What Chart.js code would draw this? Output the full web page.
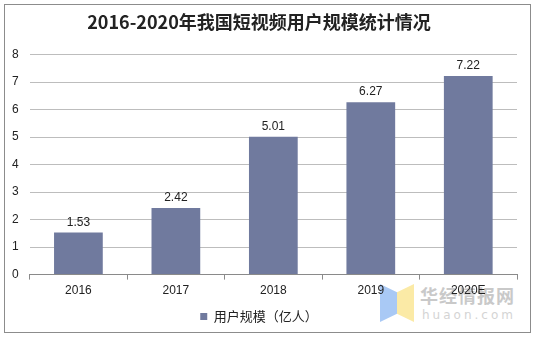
<!DOCTYPE html>
<html>
<head>
<meta charset="utf-8">
<script src="https://cdn.jsdelivr.net/npm/chart.js@4"></script>
<style>
  html, body { margin: 0; padding: 0; background: #fff; }
  #wrap { position: relative; width: 535px; height: 340px; overflow: hidden; }
  #frame { position: absolute; left: 4px; top: 4px; width: 525px; height: 327px; border: 1px solid #8c8c8c; }
  #mark { position: absolute; left: 380px; top: 282px; width: 150px; height: 42px; white-space: nowrap; }
  #mark .blue { position: absolute; left: 0; top: 2px; width: 17px; height: 38px; background: #a9c9f5;
    clip-path: polygon(0 0, 100% 22%, 100% 78%, 0 100%); }
  #mark .yellow { position: absolute; left: 17px; top: 2px; width: 17px; height: 38px; background: #fbeaa6;
    clip-path: polygon(0 22%, 100% 0, 100% 100%, 0 78%); }
  #mark .cn { position: absolute; left: 40px; top: 0; font: bold 18px "Noto Sans CJK SC", sans-serif; color: #c9c9c9; letter-spacing: 1px; }
  #mark .en { position: absolute; left: 42px; top: 26px; font: 12px "DejaVu Sans", sans-serif; color: #d4d4d4; letter-spacing: 3px; }
  canvas { position: absolute; left: 0; top: 0; }
</style>
</head>
<body>
<div id="wrap">
  <div id="mark"><div class="blue"></div><div class="yellow"></div><div class="cn">华经情报网</div><div class="en">huaon.com</div></div>
  <div id="frame"></div>
  <canvas id="chart" width="535" height="340"></canvas>
</div>
<script>
const years = ['2016', '2017', '2018', '2019', '2020E'];
const users = [1.53, 2.42, 5.01, 6.27, 7.22];
const seriesName = '用户规模（亿人）';
const chartTitle = '2016-2020年我国短视频用户规模统计情况';

const barLabels = {
    id: 'barLabels',
    afterDatasetsDraw(chart) {
        const ctx = chart.ctx;
        ctx.save();
        ctx.font = '12px "Liberation Sans", Arial, sans-serif';
        ctx.fillStyle = '#222';
        ctx.textAlign = 'center';
        ctx.textBaseline = 'bottom';
        chart.getDatasetMeta(0).data.forEach(function(bar, i) {
            ctx.fillText(users[i].toFixed(2), bar.x, bar.y - 4);
        });
        ctx.restore();
    }
};

new Chart(document.getElementById('chart').getContext('2d'), {
    type: 'bar',
    data: {
        labels: years,
        datasets: [{
            label: seriesName,
            data: users,
            backgroundColor: '#707a9e',
            barPercentage: 0.5,
            categoryPercentage: 1.0
        }]
    },
    options: {
        responsive: false,
        animation: false,
        layout: { padding: { left: 1, right: 18, top: 0, bottom: 7 } },
        plugins: {
            title: {
                display: true,
                text: chartTitle,
                color: '#222',
                font: { family: '"Noto Sans CJK SC", serif', size: 18, weight: 'bold' },
                padding: { top: 11, bottom: 22 }
            },
            legend: {
                position: 'bottom',
                labels: {
                    boxWidth: 7,
                    boxHeight: 7,
                    padding: 8,
                    color: '#222',
                    font: { family: '"Noto Sans CJK SC", sans-serif', size: 13 }
                }
            },
            tooltip: { enabled: false }
        },
        scales: {
            x: {
                grid: { display: true, drawOnChartArea: false, offset: true, tickLength: 5, color: '#8a8a8a' },
                border: { color: '#8a8a8a' },
                ticks: { color: '#222', padding: 4, font: { family: '"Liberation Sans", Arial, sans-serif', size: 12 } }
            },
            y: {
                min: 0,
                max: 8,
                grid: { color: '#bdbdbd', drawTicks: false },
                border: { display: false },
                ticks: { stepSize: 1, color: '#222', padding: 11, font: { family: '"Liberation Sans", Arial, sans-serif', size: 12 } }
            }
        }
    },
    plugins: [barLabels]
});
</script>
</body>
</html>
